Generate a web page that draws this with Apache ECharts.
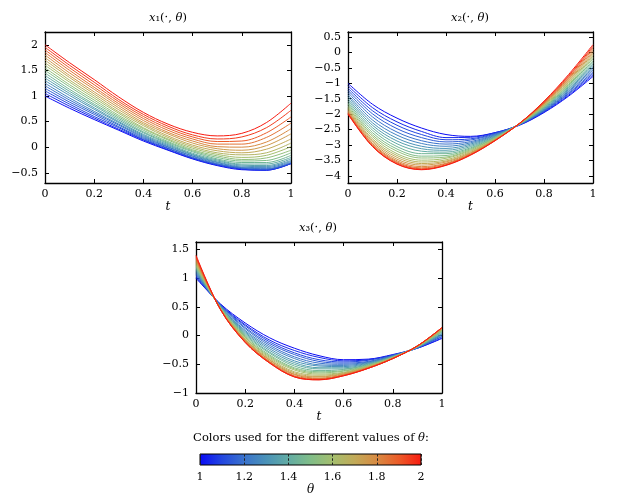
<!DOCTYPE html>
<html>
<head>
<meta charset="utf-8">
<script src="https://cdn.jsdelivr.net/npm/echarts@6/dist/echarts.min.js"></script>
<style>
html, body { margin: 0; padding: 0; background: #fff; }
#main { width: 638px; height: 497px; }
</style>
</head>
<body>
<div id="main"></div>
<script>
// time grid shared by all curves
const tValues = [0, 0.1, 0.2, 0.3, 0.4, 0.5, 0.6, 0.7, 0.8, 0.9, 1];
// one curve per theta (blue -> red)
const thetaValues = [1, 1.05, 1.1, 1.15, 1.2, 1.25, 1.3, 1.35, 1.4, 1.45, 1.5,
    1.55, 1.6, 1.65, 1.7, 1.75, 1.8, 1.85, 1.9, 1.95, 2]

const x1Curves = [
    [1.00, 0.76, 0.54, 0.33, 0.12, -0.06, -0.23, -0.36, -0.44, -0.45, -0.32],
    [1.05, 0.80, 0.57, 0.35, 0.14, -0.05, -0.22, -0.35, -0.43, -0.45, -0.32],
    [1.10, 0.84, 0.60, 0.38, 0.15, -0.03, -0.21, -0.34, -0.42, -0.44, -0.32],
    [1.15, 0.88, 0.64, 0.40, 0.17, -0.02, -0.20, -0.33, -0.41, -0.43, -0.31],
    [1.20, 0.92, 0.67, 0.43, 0.19, 0.00, -0.18, -0.32, -0.40, -0.42, -0.30],
    [1.25, 0.96, 0.70, 0.45, 0.21, 0.01, -0.17, -0.30, -0.39, -0.40, -0.28],
    [1.30, 1.01, 0.74, 0.48, 0.23, 0.03, -0.15, -0.29, -0.37, -0.38, -0.26],
    [1.35, 1.05, 0.77, 0.50, 0.25, 0.05, -0.14, -0.27, -0.35, -0.36, -0.23],
    [1.40, 1.09, 0.81, 0.53, 0.28, 0.07, -0.12, -0.25, -0.33, -0.33, -0.20],
    [1.45, 1.13, 0.84, 0.56, 0.30, 0.09, -0.09, -0.23, -0.30, -0.30, -0.16],
    [1.50, 1.18, 0.88, 0.59, 0.33, 0.11, -0.07, -0.20, -0.27, -0.26, -0.11],
    [1.55, 1.22, 0.92, 0.62, 0.36, 0.14, -0.05, -0.17, -0.24, -0.21, -0.06],
    [1.60, 1.27, 0.96, 0.66, 0.38, 0.16, -0.02, -0.14, -0.20, -0.16, 0.01],
    [1.65, 1.31, 1.00, 0.69, 0.42, 0.19, 0.01, -0.11, -0.15, -0.11, 0.08],
    [1.70, 1.36, 1.04, 0.73, 0.45, 0.22, 0.04, -0.07, -0.11, -0.04, 0.16],
    [1.75, 1.40, 1.08, 0.77, 0.48, 0.26, 0.08, -0.03, -0.06, 0.03, 0.26],
    [1.80, 1.45, 1.13, 0.81, 0.52, 0.29, 0.12, 0.01, 0.00, 0.10, 0.36],
    [1.85, 1.50, 1.17, 0.85, 0.56, 0.33, 0.16, 0.06, 0.06, 0.19, 0.47],
    [1.90, 1.55, 1.22, 0.89, 0.60, 0.37, 0.20, 0.11, 0.12, 0.28, 0.59],
    [1.95, 1.60, 1.27, 0.93, 0.64, 0.41, 0.24, 0.16, 0.20, 0.38, 0.72],
    [2.00, 1.65, 1.32, 0.98, 0.68, 0.45, 0.29, 0.22, 0.27, 0.48, 0.86]
]

const x2Curves = [
    [-1.00, -1.68, -2.13, -2.45, -2.66, -2.72, -2.60, -2.36, -1.95, -1.42, -0.78],
    [-1.08, -1.79, -2.25, -2.56, -2.76, -2.75, -2.60, -2.35, -1.93, -1.39, -0.73],
    [-1.16, -1.89, -2.36, -2.66, -2.83, -2.80, -2.62, -2.34, -1.91, -1.35, -0.68],
    [-1.23, -1.99, -2.47, -2.76, -2.90, -2.84, -2.64, -2.34, -1.89, -1.32, -0.63],
    [-1.30, -2.09, -2.58, -2.86, -2.97, -2.89, -2.66, -2.34, -1.88, -1.28, -0.57],
    [-1.37, -2.19, -2.68, -2.95, -3.04, -2.93, -2.68, -2.33, -1.86, -1.25, -0.52],
    [-1.43, -2.28, -2.78, -3.04, -3.11, -2.97, -2.70, -2.33, -1.84, -1.21, -0.47],
    [-1.50, -2.36, -2.87, -3.12, -3.17, -3.01, -2.72, -2.33, -1.82, -1.18, -0.42],
    [-1.56, -2.44, -2.96, -3.20, -3.23, -3.05, -2.74, -2.32, -1.80, -1.14, -0.37],
    [-1.62, -2.52, -3.05, -3.28, -3.28, -3.09, -2.75, -2.32, -1.78, -1.11, -0.32],
    [-1.67, -2.60, -3.13, -3.36, -3.34, -3.12, -2.77, -2.32, -1.77, -1.07, -0.27],
    [-1.72, -2.67, -3.20, -3.42, -3.39, -3.15, -2.78, -2.31, -1.75, -1.04, -0.21],
    [-1.77, -2.73, -3.28, -3.49, -3.43, -3.18, -2.80, -2.31, -1.73, -1.00, -0.16],
    [-1.81, -2.80, -3.34, -3.55, -3.48, -3.21, -2.81, -2.31, -1.71, -0.97, -0.11],
    [-1.85, -2.85, -3.40, -3.60, -3.52, -3.24, -2.82, -2.31, -1.69, -0.93, -0.06],
    [-1.89, -2.90, -3.46, -3.65, -3.55, -3.26, -2.83, -2.31, -1.67, -0.90, -0.01],
    [-1.92, -2.95, -3.51, -3.70, -3.59, -3.28, -2.84, -2.30, -1.65, -0.86, 0.04],
    [-1.95, -2.98, -3.55, -3.74, -3.61, -3.30, -2.85, -2.30, -1.64, -0.83, 0.10],
    [-1.97, -3.02, -3.58, -3.77, -3.64, -3.31, -2.85, -2.30, -1.62, -0.79, 0.15],
    [-1.99, -3.04, -3.61, -3.79, -3.65, -3.32, -2.86, -2.30, -1.60, -0.76, 0.20],
    [-2.00, -3.05, -3.62, -3.80, -3.66, -3.33, -2.86, -2.30, -1.58, -0.72, 0.25]
]

const x3Curves = [
    [1.00, 0.55, 0.22, -0.04, -0.22, -0.35, -0.42, -0.41, -0.33, -0.22, -0.05],
    [1.02, 0.54, 0.19, -0.08, -0.26, -0.38, -0.44, -0.42, -0.34, -0.22, -0.04],
    [1.04, 0.53, 0.17, -0.11, -0.30, -0.42, -0.46, -0.43, -0.34, -0.21, -0.02],
    [1.06, 0.53, 0.14, -0.14, -0.33, -0.45, -0.48, -0.45, -0.35, -0.21, -0.01],
    [1.08, 0.52, 0.12, -0.17, -0.37, -0.48, -0.50, -0.46, -0.35, -0.21, 0.01],
    [1.10, 0.51, 0.09, -0.20, -0.40, -0.51, -0.52, -0.47, -0.36, -0.21, 0.02],
    [1.12, 0.51, 0.07, -0.23, -0.44, -0.53, -0.54, -0.48, -0.36, -0.20, 0.03],
    [1.14, 0.50, 0.05, -0.26, -0.47, -0.56, -0.56, -0.49, -0.37, -0.20, 0.04],
    [1.16, 0.49, 0.03, -0.29, -0.50, -0.58, -0.58, -0.50, -0.37, -0.20, 0.06],
    [1.18, 0.49, 0.01, -0.31, -0.53, -0.61, -0.59, -0.51, -0.37, -0.20, 0.07],
    [1.20, 0.48, -0.01, -0.34, -0.56, -0.63, -0.61, -0.52, -0.38, -0.19, 0.08],
    [1.22, 0.48, -0.03, -0.36, -0.58, -0.65, -0.62, -0.53, -0.38, -0.19, 0.09],
    [1.24, 0.47, -0.04, -0.38, -0.60, -0.67, -0.64, -0.53, -0.38, -0.19, 0.10],
    [1.26, 0.47, -0.06, -0.40, -0.63, -0.69, -0.65, -0.54, -0.39, -0.19, 0.10],
    [1.28, 0.46, -0.07, -0.42, -0.65, -0.71, -0.66, -0.55, -0.39, -0.19, 0.11],
    [1.30, 0.46, -0.08, -0.43, -0.67, -0.72, -0.67, -0.55, -0.39, -0.18, 0.12],
    [1.32, 0.46, -0.09, -0.45, -0.68, -0.74, -0.68, -0.56, -0.40, -0.18, 0.13],
    [1.34, 0.45, -0.10, -0.46, -0.70, -0.75, -0.69, -0.56, -0.40, -0.18, 0.13],
    [1.36, 0.45, -0.11, -0.47, -0.71, -0.76, -0.69, -0.57, -0.40, -0.18, 0.14],
    [1.38, 0.45, -0.12, -0.48, -0.72, -0.77, -0.70, -0.57, -0.40, -0.18, 0.14],
    [1.40, 0.45, -0.12, -0.48, -0.72, -0.77, -0.70, -0.57, -0.40, -0.18, 0.14]
]

// tick labels
const x1Ticks = [-0.5, 0, 0.5, 1, 1.5, 2]
const x2Ticks = [-4, -3.5, -3, -2.5, -2, -1.5, -1, -0.5, 0, 0.5]
const x3Ticks = [-1, -0.5, 0, 0.5, 1, 1.5]

// colour map of the colorbar, theta = 1.0, 1.1, ... 2.0
const cmap = ['#0a0af5', '#2246e0', '#3a72cc', '#4a92b8', '#62aca4', '#80bd88',
    '#a4be6e', '#c2aa58', '#d88a42', '#ec5a28', '#f81a10']

const FONT = 'DejaVu Serif'

function hexToRgb (h) {
    return [parseInt(h.slice(1, 3), 16), parseInt(h.slice(3, 5), 16), parseInt(h.slice(5, 7), 16)]
}
function thetaColor (th) {
    const pos = (th - 1) * 10
    const i = Math.min(Math.floor(pos), 9)
    const f = pos - i
    const a = hexToRgb(cmap[i])
    const b = hexToRgb(cmap[i + 1])
    const c = a.map((v, j) => Math.round(v + (b[j] - v) * f))
    return 'rgb(' + c.join(',') + ')'
}

function fmt (v) {
    return v < 0 ? '\u2212' + Math.abs(v) : String(v)
}

const grids = [
    { left: 45, top: 32, width: 246, height: 151 },
    { left: 348, top: 32, width: 245, height: 151 },
    { left: 196, top: 242, width: 246, height: 151 }
]
const yRanges = [[-0.7, 2.25, x1Ticks], [-4.23, 0.66, x2Ticks], [-1, 1.63, x3Ticks]]

const frame = { show: true, onZero: false, lineStyle: { color: '#000', width: 1.3 } }
const tick = { show: true, inside: true, length: 4, lineStyle: { color: '#000', width: 1 } }
const label = { color: '#000', fontFamily: FONT, fontSize: 11, formatter: fmt }

const xAxes = []
const yAxes = []
const series = []

grids.forEach((g, gi) => {
    xAxes.push({
        gridIndex: gi, type: 'value', min: 0, max: 1, interval: 0.2,
        axisLine: frame, axisTick: tick, splitLine: { show: false },
        axisLabel: Object.assign({ margin: 6 }, label),
        name: 't', nameLocation: 'middle', nameGap: 16,
        nameTextStyle: { color: '#000', fontFamily: FONT, fontSize: 12, fontStyle: 'italic' }
    })
    xAxes.push({
        gridIndex: gi, type: 'value', min: 0, max: 1, interval: 0.2, position: 'top',
        axisLine: frame, axisTick: tick, splitLine: { show: false }, axisLabel: { show: false }
    })
    const yr = yRanges[gi]
    yAxes.push({
        gridIndex: gi, type: 'value', min: yr[0], max: yr[1],
        axisLine: frame, splitLine: { show: false },
        axisTick: Object.assign({ customValues: yr[2] }, tick),
        axisLabel: Object.assign({ margin: 7, customValues: yr[2] }, label)
    })
    yAxes.push({
        gridIndex: gi, type: 'value', min: yr[0], max: yr[1], position: 'right',
        axisLine: frame, splitLine: { show: false },
        axisTick: Object.assign({ customValues: yr[2] }, tick),
        axisLabel: { show: false }
    })
})

// colorbar
const cbGrid = {
    left: 200, top: 454, width: 221, height: 11, show: true,
    borderColor: '#000', borderWidth: 1,
    backgroundColor: new echarts.graphic.LinearGradient(0, 0, 1, 0,
        cmap.map((c, i) => ({ offset: i / 10, color: c })))
}
xAxes.push({
    gridIndex: 3, type: 'value', min: 1, max: 2, interval: 0.2,
    axisLine: { show: false }, axisTick: { show: false },
    splitLine: { show: true, lineStyle: { color: '#222', width: 1, type: [2.5, 1.8] } },
    axisLabel: Object.assign({ margin: 7 }, label),
    name: 'θ', nameLocation: 'middle', nameGap: 17,
    nameTextStyle: { color: '#000', fontFamily: FONT, fontSize: 12, fontStyle: 'italic' }
})
yAxes.push({ gridIndex: 3, type: 'value', min: 0, max: 1, show: false })

const allCurves = [x1Curves, x2Curves, x3Curves]
allCurves.forEach((curves, gi) => {
    curves.forEach((row, k) => {
        series.push({
            type: 'line',
            xAxisIndex: gi * 2,
            yAxisIndex: gi * 2,
            data: tValues.map((t, i) => [t, row[i]]),
            smooth: 0.35,
            symbol: 'none',
            silent: true,
            lineStyle: { color: thetaColor(thetaValues[k]), width: 1 },
            z: 2 + k * 0.01
        })
    })
})

const rich = {
    n: { fontFamily: FONT, fontSize: 11.5, fill: '#000', color: '#000' },
    i: { fontFamily: FONT, fontSize: 11.5, fontStyle: 'italic', fill: '#000', color: '#000' }
}
function txt (x, y, s) {
    return {
        type: 'text', x: x, y: y, silent: true,
        style: { text: s, rich: rich, textAlign: 'center', textVerticalAlign: 'middle', fill: '#000' }
    }
}

const chart = echarts.init(document.getElementById('main'), null, { renderer: 'canvas' })
chart.setOption({
    animation: false,
    backgroundColor: '#fff',
    grid: grids.concat([cbGrid]),
    xAxis: xAxes,
    yAxis: yAxes,
    series: series,
    graphic: [
        txt(168, 18, '{i|x}{n|₁(·, }{i|θ}{n|)}'),
        txt(470, 18, '{i|x}{n|₂(·, }{i|θ}{n|)}'),
        txt(318, 228, '{i|x}{n|₃(·, }{i|θ}{n|)}'),
        txt(311, 438, '{n|Colors used for the different values of }{i|θ}{n|:}')
    ]
})
</script>
</body>
</html>
